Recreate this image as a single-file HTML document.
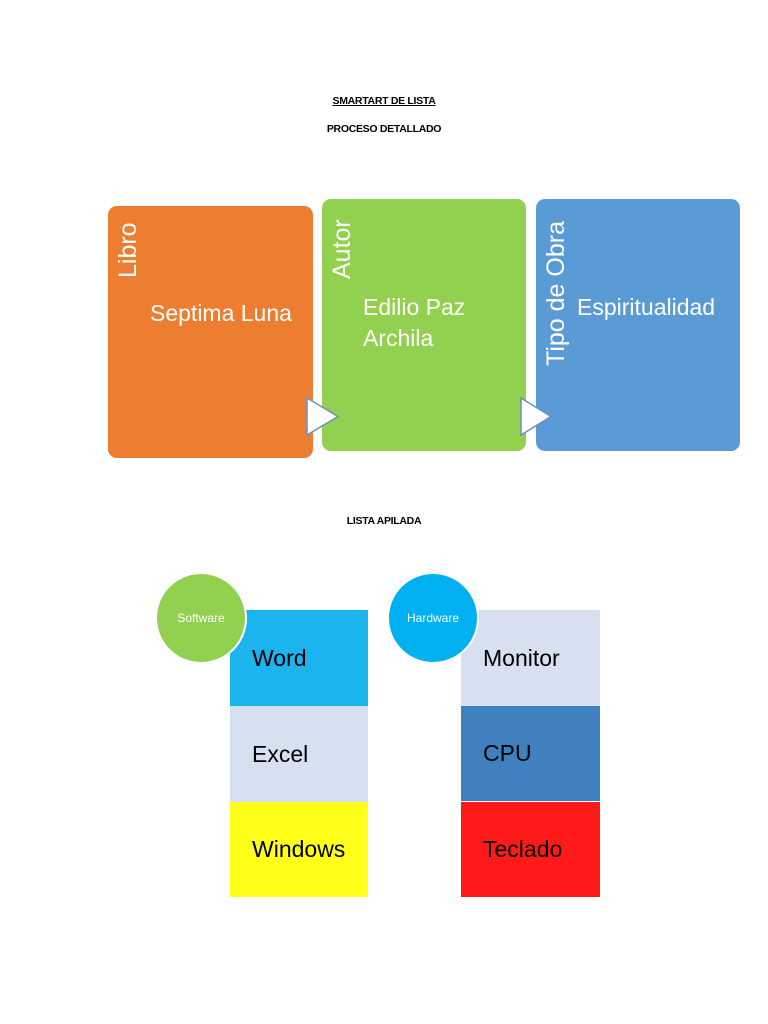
<!DOCTYPE html>
<html><head><meta charset="utf-8"><style>
body{margin:0;width:768px;height:1024px;background:#fff;position:relative;overflow:hidden;font-family:"Liberation Sans",sans-serif}
.a{position:absolute}
.t{position:absolute;left:0;width:768px;text-align:center;font-size:10.5px;font-weight:bold;color:#000;letter-spacing:-0.3px}
.box{position:absolute;border-radius:9px}
.rot{position:absolute;color:#fff;font-size:25px;transform:rotate(-90deg);transform-origin:left top;white-space:nowrap}
.w{position:absolute;color:#fff;font-size:23px;line-height:31px;white-space:nowrap}
.c{position:absolute;box-sizing:border-box;padding-left:22px;font-size:23px;color:#000;display:flex;align-items:center}
.circ{position:absolute;width:92px;height:92px;border-radius:50%;border:2px solid #fff;box-sizing:border-box;color:#fff;font-size:12px;display:flex;align-items:center;justify-content:center}
</style></head><body>
<div class="t" style="top:95px;text-decoration:underline">SMARTART DE LISTA</div>
<div class="t" style="top:123px">PROCESO DETALLADO</div>
<div class="t" style="top:515px">LISTA APILADA</div>

<div class="box" style="left:108px;top:206px;width:205px;height:252px;background:#ed7d31"></div>
<div class="box" style="left:322px;top:199px;width:204px;height:252px;background:#92d050"></div>
<div class="box" style="left:536px;top:199px;width:204px;height:252px;background:#5b9bd5"></div>
<div class="rot" style="left:114px;top:278px">Libro</div>
<div class="rot" style="left:328px;top:279px">Autor</div>
<div class="rot" style="left:542px;top:366px">Tipo de Obra</div>
<div class="w" style="left:150px;top:298px">Septima Luna</div>
<div class="w" style="left:363px;top:292px">Edilio Paz<br>Archila</div>
<div class="w" style="left:577px;top:292px">Espiritualidad</div>
<svg class="a" style="left:0;top:0" width="768" height="1024">
<polygon points="307,398 338,416.5 307,435" fill="#fff" stroke="#6d8fc0" stroke-width="1.5"/>
<polygon points="521,398 551,416.5 521,435" fill="#fff" stroke="#6d8fc0" stroke-width="1.5"/>
</svg>

<div class="c" style="left:230px;top:610px;width:138px;height:96px;background:#1cb4ee">Word</div>
<div class="c" style="left:230px;top:706px;width:138px;height:96px;background:#d6e0f0">Excel</div>
<div class="c" style="left:230px;top:802px;width:138px;height:95px;background:#ffff1a">Windows</div>
<div class="circ" style="left:155px;top:572px;background:#92d050">Software</div>

<div class="c" style="left:461px;top:610px;width:139px;height:96px;background:#d6e0f0">Monitor</div>
<div class="c" style="left:461px;top:706px;width:139px;height:95px;background:#4180be">CPU</div>
<div class="c" style="left:461px;top:802px;width:139px;height:95px;background:#ff1a1a">Teclado</div>
<div class="circ" style="left:387px;top:572px;background:#00b0f0">Hardware</div>
</body></html>
